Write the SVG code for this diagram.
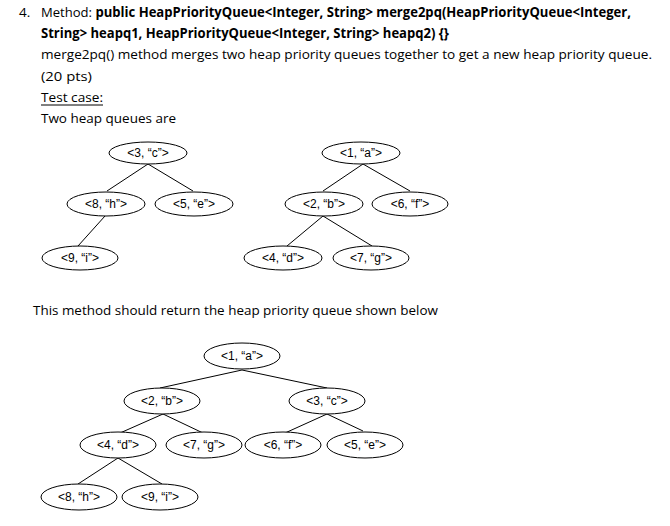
<svg xmlns="http://www.w3.org/2000/svg" width="670" height="526" viewBox="0 0 670 526">
<style>
text{font-family:"Open Sans","Liberation Sans",sans-serif;fill:#000}
.t{font-size:13.5px}
.n ellipse{fill:#fff;stroke:#000;stroke-width:1}
.n text{font-size:12px;text-anchor:middle;font-family:"Liberation Sans",sans-serif}
#edges line{stroke:#000;stroke-width:1}
</style>
<rect width="670" height="526" fill="#fff"/>
<text class="t" x="19" y="17">4.</text>
<text class="t" x="41" y="17" textLength="590" lengthAdjust="spacingAndGlyphs">Method: <tspan font-weight="bold">public HeapPriorityQueue&lt;Integer, String&gt; merge2pq(HeapPriorityQueue&lt;Integer,</tspan></text>
<text class="t" x="41" y="38" font-weight="bold" textLength="408" lengthAdjust="spacingAndGlyphs">String&gt; heapq1, HeapPriorityQueue&lt;Integer, String&gt; heapq2) {}</text>
<text class="t" x="41" y="59" textLength="611" lengthAdjust="spacingAndGlyphs">merge2pq() method merges two heap priority queues together to get a new heap priority queue.</text>
<text class="t" x="41" y="81" textLength="51" lengthAdjust="spacingAndGlyphs">(20 pts)</text>
<text class="t" x="41" y="102" textLength="62" lengthAdjust="spacingAndGlyphs">Test case:</text>
<line x1="41" y1="105" x2="103" y2="105" stroke="#000" stroke-width="1"/>
<text class="t" x="41" y="123" textLength="135" lengthAdjust="spacingAndGlyphs">Two heap queues are</text>
<text class="t" x="33" y="315" textLength="405" lengthAdjust="spacingAndGlyphs">This method should return the heap priority queue shown below</text>
<g id="edges">
<line x1="148" y1="164" x2="107" y2="191"/><line x1="148" y1="164" x2="193" y2="191"/>
<line x1="105" y1="216" x2="78" y2="246"/>
<line x1="363" y1="164" x2="323" y2="191"/><line x1="363" y1="164" x2="410" y2="191"/>
<line x1="323" y1="216" x2="287" y2="246"/><line x1="323" y1="216" x2="372" y2="246"/>
<line x1="242" y1="370" x2="160" y2="388"/><line x1="242" y1="370" x2="327" y2="388"/>
<line x1="163" y1="414" x2="120" y2="433"/><line x1="163" y1="414" x2="203" y2="433"/>
<line x1="327" y1="414" x2="285" y2="433"/><line x1="327" y1="414" x2="363" y2="431"/>
<line x1="118" y1="458" x2="78" y2="484"/><line x1="118" y1="458" x2="162" y2="484"/>
</g>
<g id="a3c" class="n"><ellipse cx="148" cy="153" rx="39" ry="11"/><text x="148" y="157">&lt;3, “c”&gt;</text></g>
<g id="a8h" class="n"><ellipse cx="106" cy="204" rx="39" ry="12"/><text x="106" y="208">&lt;8, “h”&gt;</text></g>
<g id="a5e" class="n"><ellipse cx="194" cy="204" rx="39" ry="12"/><text x="194" y="208">&lt;5, “e”&gt;</text></g>
<g id="a9i" class="n"><ellipse cx="80" cy="258" rx="38" ry="12"/><text x="80" y="262">&lt;9, “i”&gt;</text></g>
<g id="b1a" class="n"><ellipse cx="361" cy="153" rx="39" ry="11"/><text x="361" y="157">&lt;1, “a”&gt;</text></g>
<g id="b2b" class="n"><ellipse cx="324" cy="204" rx="39" ry="12"/><text x="324" y="208">&lt;2, “b”&gt;</text></g>
<g id="b6f" class="n"><ellipse cx="410" cy="204" rx="38" ry="12"/><text x="410" y="208">&lt;6, “f”&gt;</text></g>
<g id="b4d" class="n"><ellipse cx="283" cy="258" rx="39" ry="12"/><text x="283" y="262">&lt;4, “d”&gt;</text></g>
<g id="b7g" class="n"><ellipse cx="371" cy="258" rx="38" ry="12"/><text x="371" y="262">&lt;7, “g”&gt;</text></g>
<g id="c1a" class="n"><ellipse cx="242" cy="356" rx="38" ry="13"/><text x="242" y="360">&lt;1, “a”&gt;</text></g>
<g id="c2b" class="n"><ellipse cx="162" cy="401" rx="38" ry="13"/><text x="162" y="405">&lt;2, “b”&gt;</text></g>
<g id="c3c" class="n"><ellipse cx="327" cy="401" rx="38" ry="13"/><text x="327" y="405">&lt;3, “c”&gt;</text></g>
<g id="c4d" class="n"><ellipse cx="118" cy="445" rx="38" ry="13"/><text x="118" y="449">&lt;4, “d”&gt;</text></g>
<g id="c7g" class="n"><ellipse cx="204" cy="445" rx="38" ry="13"/><text x="204" y="449">&lt;7, “g”&gt;</text></g>
<g id="c6f" class="n"><ellipse cx="283" cy="445" rx="38" ry="13"/><text x="283" y="449">&lt;6, “f”&gt;</text></g>
<g id="c5e" class="n"><ellipse cx="365" cy="445" rx="38" ry="13"/><text x="365" y="449">&lt;5, “e”&gt;</text></g>
<g id="c8h" class="n"><ellipse cx="79" cy="497" rx="38" ry="13"/><text x="79" y="501">&lt;8, “h”&gt;</text></g>
<g id="c9i" class="n"><ellipse cx="160" cy="497" rx="38" ry="13"/><text x="160" y="501">&lt;9, “i”&gt;</text></g>
</svg>
